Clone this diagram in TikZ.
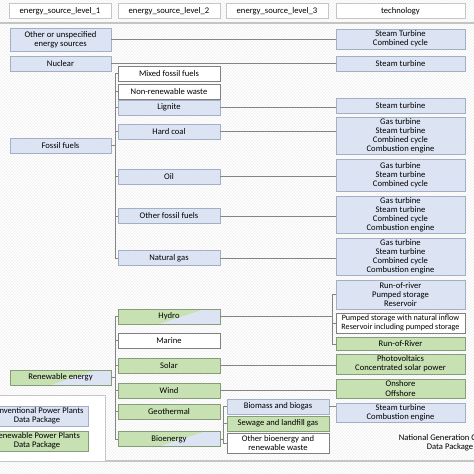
\documentclass[tikz,border=0pt]{standalone}
\usepackage{fontspec}
\setmainfont{Carlito}
\usetikzlibrary{calc,patterns}
\definecolor{boxblue}{HTML}{DCE4F4}
\definecolor{lineblue}{HTML}{A3AFC4}
\definecolor{boxgreen}{HTML}{C7E1B3}
\definecolor{linegreen}{HTML}{869C7A}
\definecolor{wirecol}{HTML}{858585}
\definecolor{rulecol}{HTML}{C4C4C4}

\begin{document}
\begin{tikzpicture}
	[x=1pt,y=-1pt,every node/.style={draw=gray, fill=white, line width=0.7pt, inner sep=0pt, align=center, font=\fontsize{8.6}{9.1}\selectfont},
	head/.style={minimum width=102pt, minimum height=15pt, draw=gray!45},
	src/.style={minimum width=101pt, minimum height=15pt},
	sub/.style={minimum width=102pt, minimum height=15pt},
	tech/.style={minimum width=129pt},
	blu/.style={fill=boxblue, draw=lineblue},
	grn/.style={fill=boxgreen, draw=linegreen},
	mixed/.style={fill=boxblue, draw=linegreen, path picture={
		\fill[boxgreen] (path picture bounding box.north west)
		-- ($(path picture bounding box.north west)!0.85!(path picture bounding box.north east)$)
		-- ($(path picture bounding box.south west)!0.4!(path picture bounding box.south east)$)
		-- (path picture bounding box.south west) -- cycle;}},
	wire/.style={draw=wirecol, line width=0.8pt}]
	\useasboundingbox (0,0) rectangle (474,474);
	\fill[pattern=north east lines, pattern color=gray!14] (0,0) rectangle (474,474);
	\draw[rulecol, line width=2pt] (0,23) -- (474,23);
	\draw[rulecol, line width=2pt] (0,461) -- (474,461);

	\node[head] (h1) at (60,11) {energy\_source\_level\_1};
	\node[head] (h2) at (169,11) {energy\_source\_level\_2};
	\node[head] (h3) at (277,11) {energy\_source\_level\_3};
	\node[head, minimum width=129pt] (h4) at (400.5,11) {technology};

	\node[src, blu, minimum height=23pt] (other) at (60.5,39.5) {Other or unspecified\\energy sources};
	\node[src, blu] (nuclear) at (60.5,63.5) {Nuclear};
	\node[src, blu] (fossil) at (60.5,145.5) {Fossil fuels};
	\node[src, mixed] (renew) at (60.5,377.5) {Renewable energy};

	\node[sub] (mixfos) at (169,73.5) {Mixed fossil fuels};
	\node[sub] (waste) at (169,91.5) {Non-renewable waste};
	\node[sub, blu] (lignite) at (169,107.5) {Lignite};
	\node[sub, blu] (hardcoal) at (169,131.5) {Hard coal};
	\node[sub, blu] (oil) at (169,176.5) {Oil};
	\node[sub, blu] (othfos) at (169,216) {Other fossil fuels};
	\node[sub, blu] (gas) at (169,258) {Natural gas};
	\node[sub, mixed] (hydro) at (169,316.5) {Hydro};
	\node[sub] (marine) at (169,340.5) {Marine};
	\node[sub, grn] (solar) at (169,365.5) {Solar};
	\node[sub, grn] (wind) at (169,390.5) {Wind};
	\node[sub, grn] (geo) at (169,411.5) {Geothermal};
	\node[sub, mixed] (bio) at (169,439) {Bioenergy};

	\node[sub, blu] (biomass) at (278,406.5) {Biomass and biogas};
	\node[sub, grn] (sewage) at (278,423.5) {Sewage and landfill gas};
	\node[sub, minimum height=20pt] (othbio) at (278,443) {Other bioenergy and\\renewable waste};

	\node[tech, blu, minimum height=20pt] (t1) at (400.5,39) {Steam Turbine\\Combined cycle};
	\node[tech, blu, minimum height=15pt] (t2) at (400.5,63.5) {Steam turbine};
	\node[tech, blu, minimum height=15pt] (t3) at (400.5,105.5) {Steam turbine};
	\node[tech, blu, minimum height=37pt] (t4) at (400.5,135.5) {Gas turbine\\Steam turbine\\Combined cycle\\Combustion engine};
	\node[tech, blu, minimum height=32pt] (t5) at (400.5,175) {Gas turbine\\Steam turbine\\Combined cycle};
	\node[tech, blu, minimum height=37pt] (t6) at (400.5,214.5) {Gas turbine\\Steam turbine\\Combined cycle\\Combustion engine};
	\node[tech, blu, minimum height=37pt] (t7) at (400.5,257) {Gas turbine\\Steam turbine\\Combined cycle\\Combustion engine};
	\node[tech, blu, minimum height=29pt] (t8) at (400.5,294.5) {Run-of-river\\Pumped storage\\Reservoir};
	\node[tech, minimum height=20pt, font=\fontsize{8.1}{9.1}\selectfont] (t9) at (400.5,323) {Pumped storage with natural inflow\\Reservoir including pumped storage};
	\node[tech, grn, minimum height=13pt] (t10) at (400.5,344) {Run-of-River};
	\node[tech, grn, minimum height=20pt] (t11) at (400.5,364) {Photovoltaics\\Concentrated solar power};
	\node[tech, grn, minimum height=19pt] (t12) at (400.5,388.5) {Onshore\\Offshore};
	\node[tech, blu, minimum height=19pt] (t13) at (400.5,412.5) {Steam turbine\\Combustion engine};

	\node[draw=gray!45, minimum width=115pt, minimum height=66pt] (legend) at (47.5,428) {};
	\node[blu, minimum width=102pt, minimum height=20pt] (conv) at (37,416) {Conventional Power Plants\\Data Package};
	\node[grn, minimum width=102pt, minimum height=20pt] (ren) at (37,441) {Renewable Power Plants\\Data Package};
	\node[draw=none, fill=none] (natgen) at (450,443) {National Generation Capacity\\Data Package};

	\coordinate (fb) at (115,0);
	\coordinate (rb) at (115,0);
	\coordinate (bb) at (223,0);
	\coordinate (hb) at (332,0);

	\draw[wire] (other) -- (other -| t1.west);
	\draw[wire] (nuclear) -- (t2);
	\draw[wire] (lignite) -- (lignite -| t3.west);
	\draw[wire] (hardcoal) -- (hardcoal -| t4.west);
	\draw[wire] (oil) -- (oil -| t5.west);
	\draw[wire] (othfos) -- (othfos -| t6.west);
	\draw[wire] (gas) -- (gas -| t7.west);
	\draw[wire] (solar) -- (solar -| t11.west);
	\draw[wire] (wind) -- (wind -| t12.west);
	\draw[wire] (biomass) -- (biomass -| t13.west);

	\draw[wire] (fossil) -- (fossil -| fb);
	\draw[wire] (mixfos -| fb) -- (gas -| fb);
	\draw[wire] (mixfos) -- (mixfos -| fb);
	\draw[wire] (waste) -- (waste -| fb);
	\draw[wire] (lignite) -- (lignite -| fb);
	\draw[wire] (hardcoal) -- (hardcoal -| fb);
	\draw[wire] (oil) -- (oil -| fb);
	\draw[wire] (othfos) -- (othfos -| fb);
	\draw[wire] (gas) -- (gas -| fb);

	\draw[wire] (renew) -- (renew -| rb);
	\draw[wire] (hydro -| rb) -- (bio -| rb);
	\draw[wire] (hydro) -- (hydro -| rb);
	\draw[wire] (marine) -- (marine -| rb);
	\draw[wire] (solar) -- (solar -| rb);
	\draw[wire] (wind) -- (wind -| rb);
	\draw[wire] (geo) -- (geo -| rb);
	\draw[wire] (bio) -- (bio -| rb);

	\draw[wire] (bio) -- (bio -| bb);
	\draw[wire] (biomass -| bb) -- (othbio -| bb);
	\draw[wire] (biomass) -- (biomass -| bb);
	\draw[wire] (sewage) -- (sewage -| bb);
	\draw[wire] (othbio) -- (othbio -| bb);

	\draw[wire] (hydro) -- (hydro -| hb);
	\draw[wire] (t8 -| hb) -- (t10 -| hb);
	\draw[wire] (t8) -- (t8 -| hb);
	\draw[wire] (t9) -- (t9 -| hb);
	\draw[wire] (t10) -- (t10 -| hb);
\end{tikzpicture}
\end{document}
